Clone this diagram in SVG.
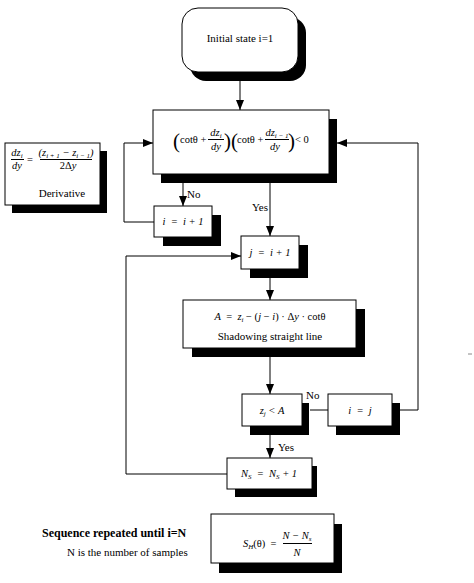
<svg xmlns="http://www.w3.org/2000/svg" width="474" height="583" viewBox="0 0 474 583">
<defs>
<marker id="ah" markerUnits="userSpaceOnUse" markerWidth="10" markerHeight="8" refX="10" refY="4" orient="auto">
<path d="M0,0 L10,4 L0,8 Z" fill="#000"/>
</marker>
</defs>
<style>
.box{fill:#fff;stroke:#000;stroke-width:1}
.sh{fill:#000}
.t{font-family:"Liberation Serif","Times New Roman",serif;font-size:11px;fill:#000;white-space:pre}
.m{font-style:italic}
.c{text-anchor:middle}
.ln{fill:none;stroke:#000;stroke-width:1}
.ar{marker-end:url(#ah)}
.sub{font-size:7px}
</style>
<rect width="474" height="583" fill="#fff"/>

<g id="connectors">
<line class="ln ar" x1="240" y1="81" x2="240" y2="110"/>
<line class="ln ar" x1="183" y1="183" x2="183" y2="206"/>
<line class="ln ar" x1="270" y1="183" x2="270" y2="236"/>
<polyline class="ln ar" points="154,222 124,222 124,143 153,143"/>
<line class="ln ar" x1="270" y1="278" x2="270" y2="300"/>
<line class="ln ar" x1="270" y1="357" x2="270" y2="394"/>
<line class="ln" x1="310" y1="410" x2="328" y2="410"/>
<polyline class="ln ar" points="400,410 418,410 418,143 337,143"/>
<line class="ln ar" x1="270" y1="435" x2="270" y2="458"/>
<polyline class="ln ar" points="227,474 126,474 126,256 241,256"/>
<text class="t" x="187" y="198">No</text>
<text class="t" x="268" y="211" text-anchor="end">Yes</text>
<text class="t" x="306" y="399">No</text>
<text class="t" x="278" y="451">Yes</text>
</g>

<g id="initial">
<rect class="sh" x="190" y="17" width="116" height="64" rx="16"/>
<rect class="box" x="182" y="8" width="116" height="64" rx="16"/>
<text class="t c" x="240" y="42">Initial state i=1</text>
</g>

<g id="condition">
<rect class="sh" x="161" y="119" width="176" height="64"/>
<rect class="box" x="153" y="110" width="176" height="64"/>
<text class="t" x="173" y="148" style="font-size:21px">(</text>
<text class="t" x="180" y="143" style="font-size:10.5px">cotθ +</text>
<text class="t m c" x="216" y="136" style="font-size:10.5px">dz<tspan class="sub" dy="2">i</tspan></text>
<line class="ln" x1="208" y1="139.5" x2="224" y2="139.5" stroke-width="0.8"/>
<text class="t m c" x="216" y="150" style="font-size:10.5px">dy</text>
<text class="t" x="224" y="148" style="font-size:21px">)(</text>
<text class="t" x="237" y="143" style="font-size:10.5px">cotθ +</text>
<text class="t m c" x="277" y="136" style="font-size:10.5px">dz<tspan class="sub" dy="2">i − 1</tspan></text>
<line class="ln" x1="265" y1="139.5" x2="289" y2="139.5" stroke-width="0.8"/>
<text class="t m c" x="275" y="150" style="font-size:10.5px">dy</text>
<text class="t" x="288" y="148" style="font-size:21px">)</text>
<text class="t" x="295" y="143" style="font-size:10.5px">&lt; 0</text>
</g>

<g id="derivative">
<rect class="sh" x="12" y="151" width="95" height="62"/>
<rect class="box" x="5" y="143" width="95" height="62"/>
<text class="t m c" x="17" y="156" style="font-size:10.5px">dz<tspan class="sub" dy="2">i</tspan></text>
<line class="ln" x1="11" y1="159.5" x2="24" y2="159.5" stroke-width="0.8"/>
<text class="t m c" x="17" y="169" style="font-size:10.5px">dy</text>
<text class="t c" x="30" y="163" style="font-size:10.5px">=</text>
<text class="t m c" x="66" y="156" style="font-size:10.5px">(z<tspan class="sub" dy="2">i + 1</tspan><tspan dy="-2"> − z</tspan><tspan class="sub" dy="2">i − 1</tspan><tspan dy="-2">)</tspan></text>
<line class="ln" x1="40" y1="159.5" x2="92" y2="159.5" stroke-width="0.8"/>
<text class="t c" x="68" y="169" style="font-size:10.5px">2Δ<tspan class="m">y</tspan></text>
<text class="t c" x="62" y="197">Derivative</text>
</g>

<g id="inc-i">
<rect class="sh" x="163" y="215" width="58" height="31"/>
<rect class="box" x="154" y="206" width="58" height="31"/>
<text class="t m c" x="183" y="225" style="font-size:10.5px">i  =  i + 1</text>
</g>

<g id="set-j">
<rect class="sh" x="250" y="245" width="58" height="33"/>
<rect class="box" x="241" y="236" width="58" height="33"/>
<text class="t m c" x="270" y="256" style="font-size:10.5px">j  =  i + 1</text>
</g>

<g id="shadow-line">
<rect class="sh" x="192" y="309" width="173" height="48"/>
<rect class="box" x="183" y="300" width="173" height="48"/>
<text class="t c" x="270" y="320" style="font-size:10.5px"><tspan class="m">A</tspan>  =  <tspan class="m">z</tspan><tspan class="sub m" dy="2">i</tspan><tspan dy="-2"> − (</tspan><tspan class="m">j</tspan> − <tspan class="m">i</tspan>) · Δ<tspan class="m">y</tspan> · cotθ</text>
<text class="t c" x="270" y="340">Shadowing straight line</text>
</g>

<g id="compare">
<rect class="sh" x="250" y="403" width="59" height="32"/>
<rect class="box" x="242" y="394" width="60" height="32"/>
<text class="t m c" x="272" y="414" style="font-size:10.5px">z<tspan class="sub" dy="2">j</tspan><tspan dy="-2"> &lt; A</tspan></text>
</g>

<g id="set-i">
<rect class="sh" x="336" y="403" width="64" height="32"/>
<rect class="box" x="328" y="394" width="64" height="32"/>
<text class="t m c" x="360" y="414" style="font-size:10.5px">i  =  j</text>
</g>

<g id="count">
<rect class="sh" x="235" y="466" width="82" height="31"/>
<rect class="box" x="227" y="458" width="85" height="31"/>
<text class="t m c" x="269" y="477" style="font-size:10.5px">N<tspan class="sub" dy="2">S</tspan><tspan dy="-2">  =  N</tspan><tspan class="sub" dy="2">S</tspan><tspan dy="-2"> + 1</tspan></text>
</g>

<g id="note">
<text class="t" x="42" y="537" style="font-size:12px;font-weight:bold">Sequence repeated until i=N</text>
<text class="t" x="67" y="556">N is the number of samples</text>
</g>

<g id="result">
<rect class="sh" x="219" y="524" width="123" height="49"/>
<rect class="box" x="211" y="514" width="123" height="49"/>
<text class="t" x="243" y="547" style="font-size:10.5px"><tspan class="m">S</tspan><tspan class="sub m" dy="2">H</tspan><tspan dy="-2">(θ)  =</tspan></text>
<text class="t m c" x="297" y="539" style="font-size:10.5px">N − N<tspan class="sub" dy="2">s</tspan></text>
<line class="ln" x1="283" y1="543.5" x2="312" y2="543.5" stroke-width="0.8"/>
<text class="t m c" x="297" y="556" style="font-size:10.5px">N</text>
</g>

<line x1="468" y1="354" x2="472" y2="354" stroke="#888" stroke-width="1"/>
</svg>
